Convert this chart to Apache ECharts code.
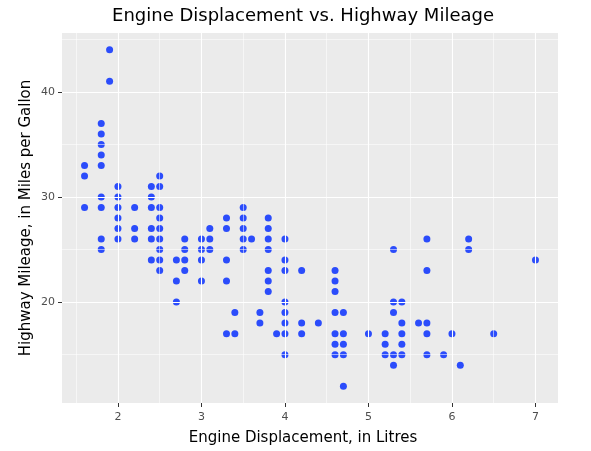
<!DOCTYPE html>
<html>
<head>
<meta charset="utf-8">
<script src="https://cdn.jsdelivr.net/npm/echarts@6/dist/echarts.min.js"></script>
<style>
  html, body { margin: 0; padding: 0; background: #fff; }
  #chart { width: 591px; height: 451px; }
</style>
</head>
<body>
<div id="chart"></div>
<script>
// engine displacement (litres) and the highway mpg values seen at each one
const displacement = [1.6, 1.8, 1.9, 2.0, 2.2, 2.4, 2.5, 2.7, 2.8, 3.0, 3.1, 3.3, 3.4, 3.5, 3.6, 3.7, 3.8, 3.9, 4.0, 4.2,
  4.4, 4.6, 4.7, 5.0, 5.2, 5.3, 5.4, 5.6, 5.7, 5.9, 6.0, 6.1, 6.2, 6.5, 7.0];
const highway = [
  [33, 32, 29], [37, 36, 35, 34, 33, 30, 29, 26, 25], [44, 41], [31, 30, 29, 28, 27, 26], [29, 27, 26],
  [31, 30, 29, 27, 26, 24], [32, 31, 29, 28, 27, 26, 25, 24, 23], [24, 22, 20], [26, 25, 24, 23], [26, 25, 24, 22],
  [27, 26, 25], [28, 27, 24, 22, 17], [19, 17], [29, 28, 27, 26, 25], [26], [19, 18], [28, 27, 26, 25, 23, 22, 21],
  [17], [26, 24, 23, 20, 19, 18, 17, 15], [23, 18, 17], [18], [23, 22, 21, 19, 17, 16, 15], [19, 17, 16, 15, 12],
  [17], [17, 16, 15], [25, 20, 19, 15, 14], [20, 18, 17, 16, 15], [18], [26, 23, 18, 17, 15], [15], [17], [14],
  [26, 25], [17], [24]
];
const xTicks = [2, 3, 4, 5, 6, 7];
const yTicks = [20, 30, 40];
const xMinor = [1.5, 2.5, 3.5, 4.5, 5.5, 6.5];
const yMinor = [15, 25, 35, 45];

let points = [];
displacement.forEach(function (d, i) {
  highway[i].forEach(function (h) { points.push([d, h]); });
});

// grid lines like ggplot's grey theme
let gridLines = [];
xTicks.forEach(function (v) { gridLines.push({ xAxis: v, lineStyle: { width: 1.1 } }); });
yTicks.forEach(function (v) { gridLines.push({ yAxis: v, lineStyle: { width: 1.1 } }); });
xMinor.forEach(function (v) { gridLines.push({ xAxis: v, lineStyle: { width: 0.55 } }); });
yMinor.forEach(function (v) { gridLines.push({ yAxis: v, lineStyle: { width: 0.55 } }); });

let myChart = echarts.init(document.getElementById('chart'));
const font = 'DejaVu Sans';
myChart.setOption({
  animation: false,
  textStyle: { fontFamily: font },
  title: {
    text: 'Engine Displacement vs. Highway Mileage',
    left: 298, top: 2, textAlign: 'center',
    textStyle: { fontFamily: font, fontSize: 18, fontWeight: 'normal', color: '#000' }
  },
  grid: { left: 62, right: 33, top: 33, bottom: 48, show: true, backgroundColor: '#EBEBEB', borderWidth: 0 },
  xAxis: {
    type: 'value', min: 1.33, max: 7.27,
    name: 'Engine Displacement, in Litres', nameLocation: 'middle', nameGap: 28,
    nameTextStyle: { fontFamily: font, fontSize: 15, color: '#000', padding: [0, 14, 0, 0] },
    axisLine: { show: false },
    axisTick: { show: true, length: 4, lineStyle: { color: '#333', width: 1 }, customValues: xTicks },
    axisLabel: { color: '#4D4D4D', fontSize: 11, margin: 9, fontFamily: font, customValues: xTicks },
    splitLine: { show: false }
  },
  yAxis: {
    type: 'value', min: 10.4, max: 45.6,
    name: 'Highway Mileage, in Miles per Gallon', nameLocation: 'middle', nameGap: 28,
    nameMoveOverlap: false,
    nameTextStyle: { fontFamily: font, fontSize: 15, color: '#000' },
    axisLine: { show: false },
    axisTick: { show: true, length: 4, lineStyle: { color: '#333', width: 1 }, customValues: yTicks },
    axisLabel: { color: '#4D4D4D', fontSize: 11, margin: 7, fontFamily: font, customValues: yTicks },
    splitLine: { show: false }
  },
  series: [{
    type: 'line',
    data: [],
    z: 1,
    silent: true,
    markLine: {
      silent: true,
      symbol: ['none', 'none'],
      label: { show: false },
      lineStyle: { color: '#fff', type: 'solid' },
      data: gridLines
    }
  }, {
    type: 'scatter',
    z: 3,
    symbolSize: 7,
    itemStyle: { color: '#2b4cfb', opacity: 1 },
    data: points
  }]
});
</script>
</body>
</html>
